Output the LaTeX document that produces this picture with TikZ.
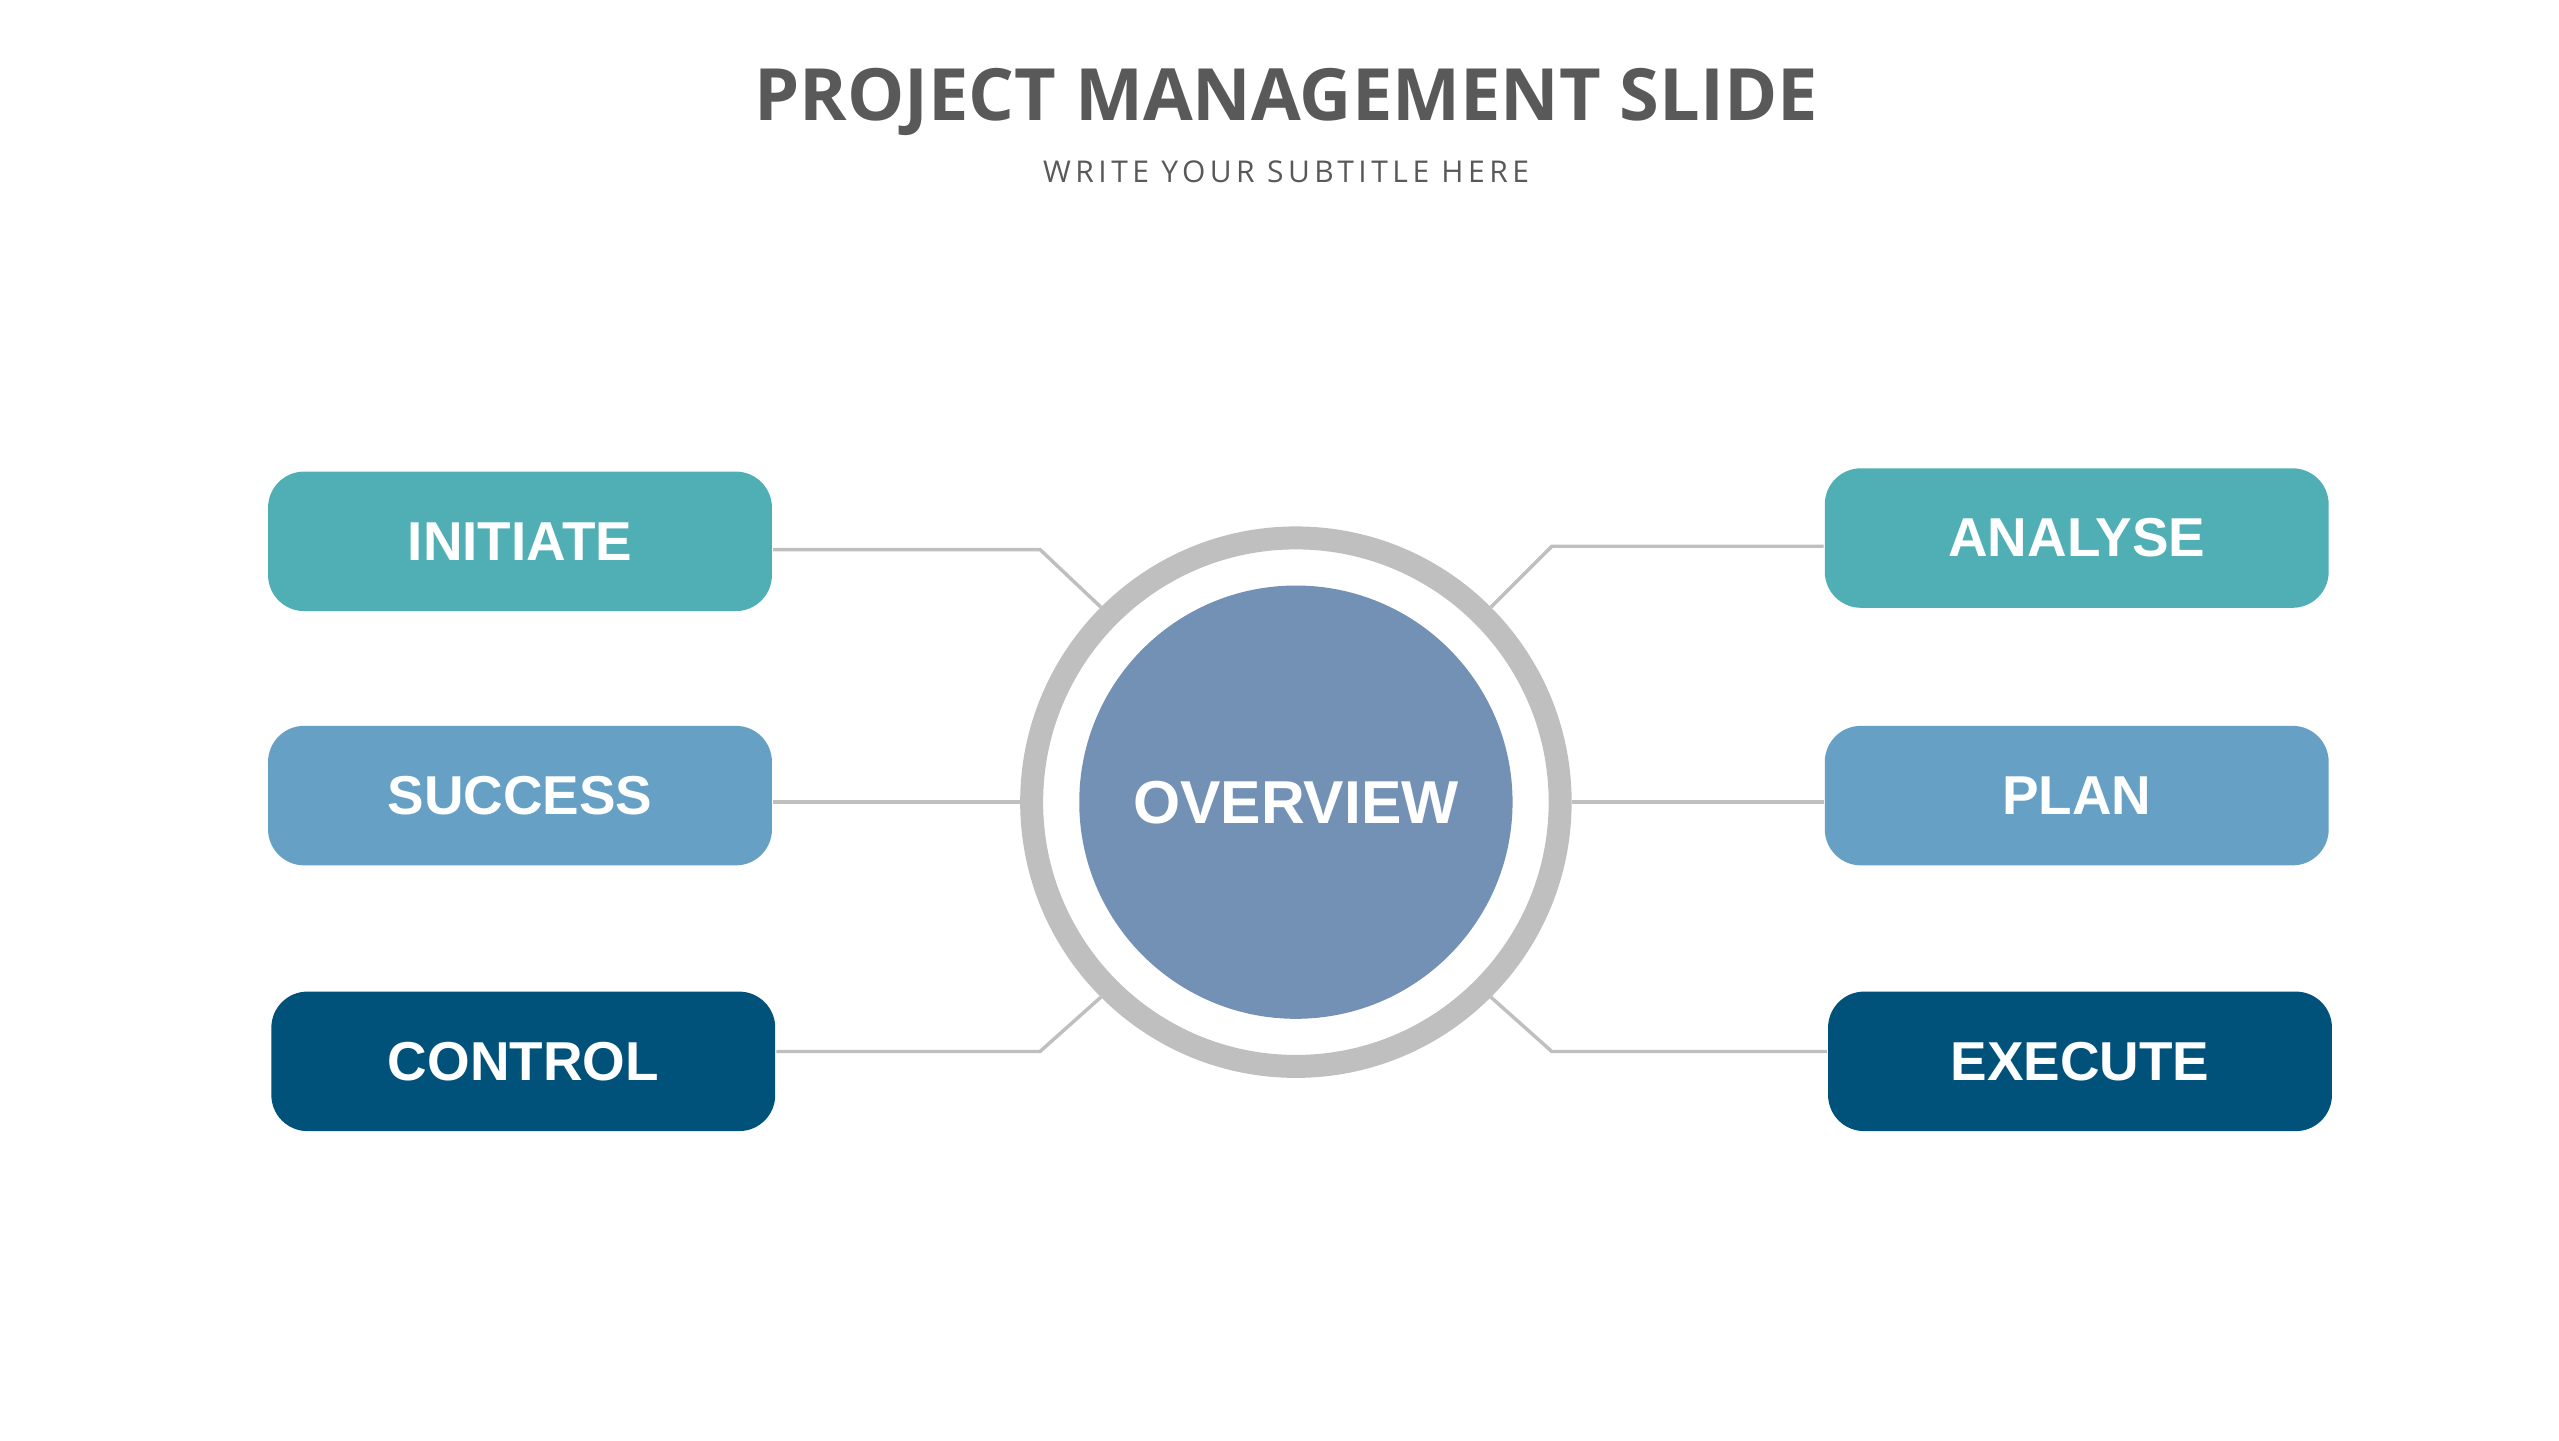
\documentclass[tikz,border=0pt]{standalone}
\usepackage{fontspec}
\setmainfont{Liberation Sans}
\newfontfamily\titlefont{Open Sans}
\usetikzlibrary{positioning}
\definecolor{tealbox}{HTML}{4FAFB5}
\definecolor{midbox}{HTML}{66A0C4}
\definecolor{darkbox}{HTML}{00527A}
\definecolor{ringgray}{HTML}{BFBFBF}
\definecolor{coreblue}{HTML}{7391B5}
\definecolor{titlegray}{HTML}{595959}
\tikzset{
  stagebox/.style={rounded corners=0.22cm, minimum width=3.07cm, minimum height=0.85cm,
    text=white, font=\fontsize{9.5}{11}\selectfont\bfseries},
  link/.style={draw=ringgray, line width=0.6pt}
}
\begin{document}
\begin{tikzpicture}[x=0.01cm,y=-0.01cm]
\useasboundingbox (0,0) rectangle (1560,878);

% heading
\node[text=titlegray, font=\titlefont\fontsize{12.5}{14}\selectfont\bfseries] (title) at (784,62) {PROJECT MANAGEMENT SLIDE};
\node[text=titlegray, font=\titlefont\fontsize{5.2}{6}\selectfont] (subtitle) at (784,105)
  {\addfontfeature{LetterSpace=15}WRITE YOUR SUBTITLE HERE};

% centre
\node[circle, draw=ringgray, line width=0.14cm, minimum size=3.22cm] (ring) at (790,489) {};
\node[circle, fill=coreblue, minimum size=2.64cm, text=white, font=\fontsize{10.5}{12}\selectfont\bfseries] (core) at (790,489) {OVERVIEW};

% left stages
\node[stagebox, fill=tealbox] (initiate) at (317,330) {INITIATE};
\node[stagebox, fill=midbox] (success) at (317,485) {SUCCESS};
\node[stagebox, fill=darkbox] (control) at (319,647) {CONTROL};

% right stages
\node[stagebox, fill=tealbox] (analyse) at (1266,328) {ANALYSE};
\node[stagebox, fill=midbox] (plan) at (1266,485) {PLAN};
\node[stagebox, fill=darkbox] (execute) at (1268,647) {EXECUTE};

% links
\coordinate (kinkA) at (634,335);
\coordinate (kinkB) at (634,641);
\coordinate (kinkC) at (946,333);
\coordinate (kinkD) at (946,641);
\draw[link] (initiate.east |- kinkA) -- (kinkA) -- (ring.135);
\draw[link] (success.east |- ring.west) -- (ring.west);
\draw[link] (control.east |- kinkB) -- (kinkB) -- (ring.-135);
\draw[link] (analyse.west |- kinkC) -- (kinkC) -- (ring.45);
\draw[link] (plan.west |- ring.east) -- (ring.east);
\draw[link] (execute.west |- kinkD) -- (kinkD) -- (ring.-45);
\end{tikzpicture}
\end{document}
